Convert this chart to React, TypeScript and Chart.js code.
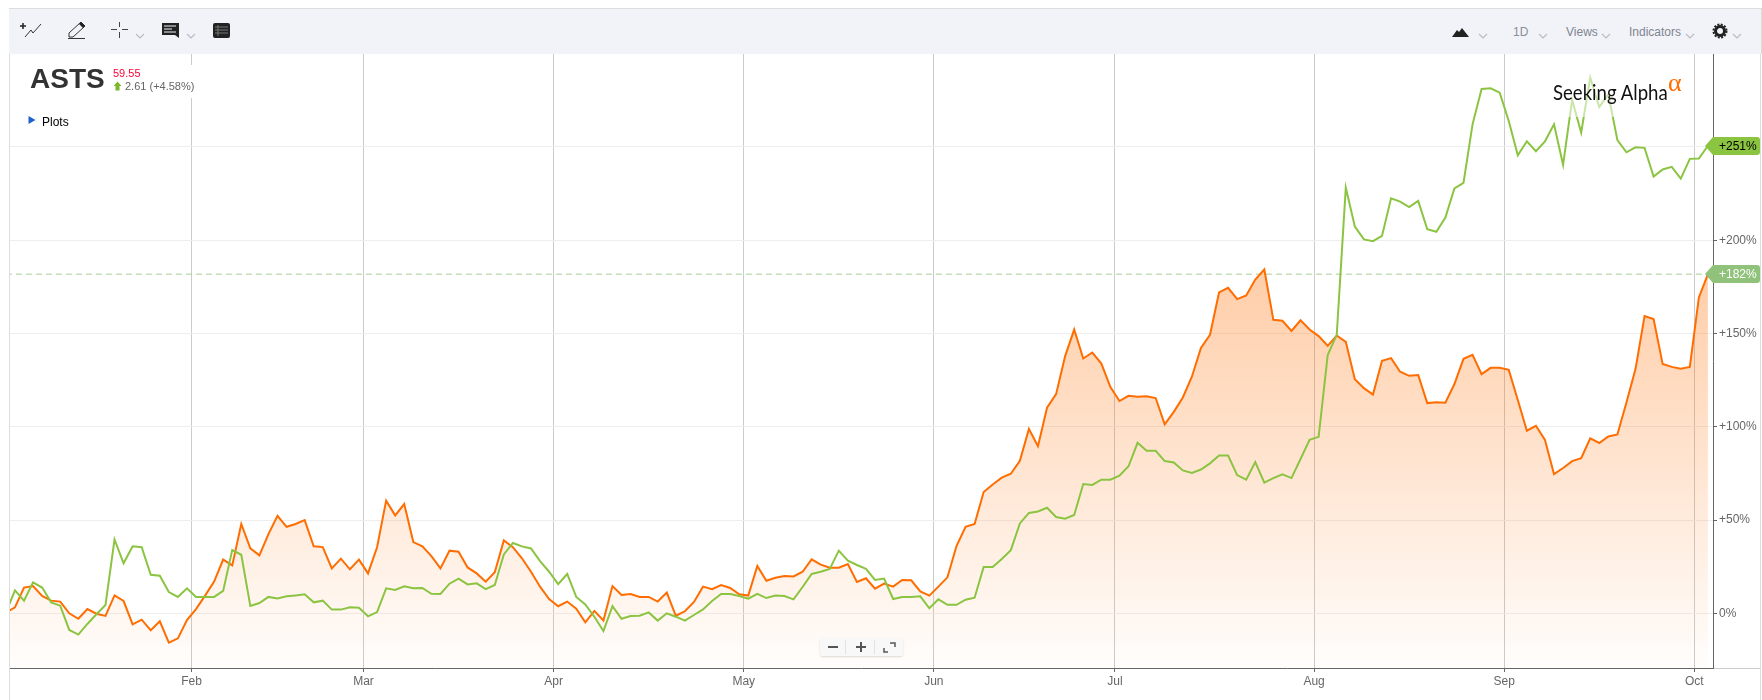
import { useEffect, useRef } from 'react';
import { Chart, registerables } from 'chart.js';

Chart.register(...registerables);

// Percent change per trading day
const astsChange = [
  0.4, 3.2, 13.8, 14.6, 9.3, 6.8, 6.3, 0, -2.9, 2.3, -0.2, -1.4, 9.6, 6.6, -5.9, -3.4, -9.1, -4.3, -15.7, -13.4,
  -3.6, 2.3, 9.5, 17.0, 28.8, 25.7, 47.9, 34.8, 31.1, 42.5, 52.3, 46.4, 47.9, 50.0, 35.9, 35.5, 24.1, 29.3, 23.6, 28.8,
  21.4, 35.4, 60.4, 52.5, 58.6, 38.2, 35.9, 30.7, 24.1, 33.6, 33.0, 24.6, 21.4, 17.0, 22.0, 39.1, 35.5, 29.5, 22.3, 14.3,
  7.7, 3.8, 6.3, 2.5, -4.8, 1.3, -3.8, 14.6, 9.8, 10.4, 8.8, 8.8, 6.3, 11.1, -1.3, 1.1, 6.1, 14.3, 12.9, 15.2,
  13.6, 10.2, 9.5, 25.4, 17.5, 19.1, 20.0, 19.8, 22.3, 28.9, 26.1, 24.5, 24.5, 26.4, 16.8, 18.8, 13.2, 15.9, 14.3, 17.9,
  17.7, 11.8, 9.5, 14.3, 19.3, 36.1, 46.4, 47.9, 65.0, 69.1, 72.7, 74.8, 81.8, 98.8, 89.6, 110.2, 117.5, 137.9, 152.1, 136.6,
  139.8, 133.9, 121.3, 113.8, 116.6, 116.1, 116.4, 115.4, 101.3, 108.0, 115.7, 126.8, 142.3, 149.3, 172.0, 174.5, 168.4, 170.4, 178.9, 184.3,
  157.3, 156.8, 151.4, 157.1, 152.1, 148.6, 143.4, 148.9, 145.5, 125.5, 120.7, 117.3, 135.4, 136.8, 129.5, 127.3, 127.7, 112.7, 113.2, 112.9,
  122.9, 136.4, 138.6, 128.2, 131.6, 131.6, 130.5, 114.3, 97.9, 100.5, 92.9, 74.6, 77.9, 81.6, 83.2, 93.8, 91.3, 94.8, 95.9, 113.0,
  130.9, 159.3, 157.7, 133.6, 132.1, 131.1, 132.1, 169.3, 181.8,
];

const comparisonChange = [
  0.4, 12.3, 6.8, 16.6, 13.8, 5.9, 4.1, -8.9, -11.4, -5.7, -0.5, 4.5, 39.6, 26.8, 35.9, 35.4, 20.7, 20.2, 11.4, 8.8,
  13.4, 8.8, 8.8, 8.8, 12.0, 33.9, 31.4, 3.9, 5.5, 8.8, 8.0, 9.1, 9.6, 10.2, 5.9, 6.8, 2.0, 2.0, 3.2, 3.0,
  -1.6, 0.7, 13.4, 12.5, 14.5, 13.4, 13.6, 10.5, 10.4, 15.9, 18.6, 15.5, 16.1, 13.0, 15.2, 31.6, 37.7, 35.9, 34.8, 28.0,
  22.3, 15.7, 21.1, 8.8, 4.8, -1.8, -9.5, 3.9, -2.9, -1.4, -1.3, 0.5, -3.9, 0, -1.8, -3.9, -0.9, 2.1, 6.6, 10.4,
  10.4, 9.3, 7.9, 10.5, 8.2, 9.5, 9.3, 7.5, 14.1, 21.1, 22.3, 23.8, 33.6, 28.2, 25.9, 23.8, 17.9, 18.6, 7.7, 8.8,
  8.8, 9.1, 2.7, 7.5, 4.6, 4.6, 7.3, 8.4, 24.8, 24.8, 29.1, 33.9, 48.2, 53.8, 54.6, 56.6, 51.6, 50.7, 52.7, 69.3,
  68.8, 71.6, 71.6, 73.8, 78.8, 91.4, 87.1, 87.1, 81.6, 80.9, 76.6, 75.2, 77.1, 80.4, 84.6, 84.6, 74.1, 71.6, 81.1, 70.0,
  72.5, 74.5, 72.5, 82.7, 93.0, 94.6, 138.4, 149.3, 228.2, 207.3, 200.4, 199.5, 202.3, 222.5, 220.7, 217.7, 221.1, 205.9, 204.5, 212.1,
  227.7, 230.7, 262.1, 281.1, 281.4, 279.1, 263.9, 245.5, 253.0, 247.7, 253.0, 262.1, 240.4, 275.2, 257.7, 287.1, 271.4, 278.2, 253.6, 247.1,
  249.8, 249.5, 234.1, 237.9, 239.3, 233.0, 243.6, 243.8, 250.6,
];

const monthLabels = ['Feb', 'Mar', 'Apr', 'May', 'Jun', 'Jul', 'Aug', 'Sep', 'Oct'];
// gridlines sit halfway between two trading days
const monthStarts = [20.5, 39.5, 60.5, 81.5, 102.5, 122.5, 144.5, 165.5, 186.5];
const percentTicks = [0, 50, 100, 150, 200, 250];

const ORANGE = '#ff6d00';
const GREEN = '#8bc441';

const badgePlugin = {
  id: 'lastValueBadges',
  afterDraw(chart: Chart) {
    const { ctx, scales } = chart;
    const badge = (value: number, fill: string, color: string) => {
      const y = Math.round(scales.y.getPixelForValue(value));
      ctx.save();
      ctx.beginPath();
      ctx.moveTo(1705, y);
      ctx.lineTo(1713, y - 9);
      ctx.lineTo(1757, y - 9);
      ctx.quadraticCurveTo(1760, y - 9, 1760, y - 6);
      ctx.lineTo(1760, y + 6);
      ctx.quadraticCurveTo(1760, y + 9, 1757, y + 9);
      ctx.lineTo(1713, y + 9);
      ctx.closePath();
      ctx.fillStyle = fill;
      ctx.fill();
      ctx.fillStyle = color;
      ctx.font = '12px "Liberation Sans"';
      ctx.textBaseline = 'middle';
      ctx.fillText(`+${Math.round(value)}%`, 1719, y + 0.5);
      ctx.restore();
    };
    badge(comparisonChange[comparisonChange.length - 1], '#8bc441', '#000');
    badge(astsChange[astsChange.length - 1], '#90c27c', '#fff');
  },
};

function Chevron({ x }: { x: number }) {
  return (
    <svg style={{ position: 'absolute', left: x - 5, top: 33, overflow: 'visible' }} width="10" height="6">
      <path d="M1 1 L5 5 L9 1" fill="none" stroke="#b9bcc2" strokeWidth="1.2" />
    </svg>
  );
}

function Label({ x, y, size, color, children }: any) {
  return (
    <div style={{ position: 'absolute', left: x, top: y, fontSize: size, color, lineHeight: 1, whiteSpace: 'nowrap' }}>
      {children}
    </div>
  );
}

function Toolbar() {
  return (
    <div style={{ position: 'absolute', left: 9, top: 8, width: 1752, height: 45, background: '#f1f3f8', borderTop: '1px solid #ddd', borderRight: '1px solid #ddd' }}>
      <div style={{ position: 'absolute', left: -9, top: -9, width: 1762, height: 54 }}>
        <svg style={{ position: 'absolute', left: 0, top: 0 }} width="240" height="54">
          <path d="M20 26 H26 M23 23 V29" stroke="#222" strokeWidth="1.5" />
          <path d="M25 37 L31 30 L33 33 L41 24" fill="none" stroke="#333" strokeWidth="1" />
          <path d="M69 37 L69 33 L81 22 L85 26 L73 37 Z M68 38.5 H85" fill="none" stroke="#333" strokeWidth="1" />
          <path d="M81 22 L85 26 L83 28 L79 24 Z" fill="#222" />
          <path d="M111 29.5 H117 M122 29.5 H128 M119.5 22 V27 M119.5 32 V38" stroke="#444" strokeWidth="1" />
          <path d="M162 23 H179 V38 L175 35 H162 Z" fill="#222" />
          <path d="M164 26 H176 M164 29 H172 M164 32 H176" stroke="#f1f3f8" strokeWidth="1" />
          <rect x="213" y="23" width="17" height="15" rx="2" fill="#222" />
          <path d="M215 27 H228 M215 30 H228 M215 33 H228 M218 25 V36" stroke="#777" strokeWidth="1" />
        </svg>
        <Chevron x={140} />
        <Chevron x={191} />
        <svg style={{ position: 'absolute', left: 1450, top: 24 }} width="20" height="16">
          <path d="M2 13 L7 6 L9 8 L12 4 L19 13 Z" fill="#222" />
        </svg>
        <Chevron x={1483} />
        <Label x={1513} y={26} size={12} color="#8a8f99">1D</Label>
        <Chevron x={1543} />
        <Label x={1566} y={26} size={12} color="#808590">Views</Label>
        <Chevron x={1606} />
        <Label x={1629} y={26} size={12} color="#808590">Indicators</Label>
        <Chevron x={1690} />
        <svg style={{ position: 'absolute', left: 1711, top: 22 }} width="18" height="18">
          <circle cx="9" cy="9" r="4.5" fill="none" stroke="#222" strokeWidth="3" />
          <circle cx="9" cy="9" r="6.5" fill="none" stroke="#222" strokeWidth="2" strokeDasharray="2 1.4" />
        </svg>
        <Chevron x={1737} />
      </div>
    </div>
  );
}

function ZoomControls() {
  return (
    <div style={{ position: 'absolute', left: 820, top: 638, width: 83, height: 18, background: '#f8f8f8', borderRadius: 2, boxShadow: '0 1px 2px rgba(0,0,0,0.15)' }}>
      <svg width="83" height="18" style={{ display: 'block' }}>
        <path d="M8 9 H18" stroke="#555" strokeWidth="2" />
        <path d="M36 9 H46 M41 4 V14" stroke="#555" strokeWidth="2" />
        <path d="M25.5 2 V16 M54.5 2 V16" stroke="#e2e2e2" strokeWidth="1" />
        <path d="M70 5 H75 V9 M64 10 V14 H68" fill="none" stroke="#555" strokeWidth="1.5" />
      </svg>
    </div>
  );
}

export default function App() {
  const canvasRef = useRef<HTMLCanvasElement | null>(null);

  useEffect(() => {
    if (!canvasRef.current) return;
    Chart.defaults.font.family = '"Liberation Sans"';
    const last = astsChange.length - 1;

    const chart = new Chart(canvasRef.current, {
      type: 'line',
      plugins: [badgePlugin],
      data: {
        datasets: [
          {
            label: 'Comparison',
            data: comparisonChange.map((y, x) => ({ x, y })),
            borderColor: GREEN,
            borderWidth: 2,
            pointRadius: 0,
            tension: 0,
            fill: false,
            order: 0,
          },
          {
            label: 'ASTS',
            data: astsChange.map((y, x) => ({ x, y })),
            borderColor: ORANGE,
            borderWidth: 2,
            pointRadius: 0,
            tension: 0,
            fill: 'start',
            order: 1,
            backgroundColor: (ctx: any) => {
              const { chart: c } = ctx;
              if (!c.chartArea) return 'transparent';
              const g = c.ctx.createLinearGradient(0, c.scales.y.getPixelForValue(184), 0, c.chartArea.bottom);
              g.addColorStop(0, 'rgba(255,109,0,0.34)');
              g.addColorStop(1, 'rgba(255,109,0,0.01)');
              return g;
            },
          },
          {
            label: 'Last',
            data: [
              { x: 0, y: astsChange[last] },
              { x: 189, y: astsChange[last] },
            ],
            borderColor: '#a5cd96',
            borderWidth: 1,
            borderDash: [6, 4],
            pointRadius: 0,
            fill: false,
            order: 2,
          },
        ],
      },
      options: {
        responsive: false,
        animation: false,
        layout: { padding: { left: 9.5, top: 54, right: 0, bottom: 0 } },
        plugins: { legend: { display: false }, tooltip: { enabled: false } },
        scales: {
          x: {
            type: 'linear',
            min: 0.398,
            max: 188.56,
            afterFit: (scale: any) => {
              scale.height = 32;
            },
            afterBuildTicks: (scale: any) => {
              scale.ticks = monthStarts.map((value) => ({ value }));
            },
            grid: { color: '#ccc', tickColor: '#666', tickLength: 4 },
            border: { color: '#666', width: 1 },
            ticks: {
              color: '#666',
              font: { size: 12 },
              padding: 2,
              maxRotation: 0,
              autoSkip: false,
              callback: (value: any) => monthLabels[monthStarts.indexOf(value)],
            },
          },
          y: {
            position: 'right',
            min: -29.3,
            max: 299.8,
            afterFit: (scale: any) => {
              scale.width = 49;
            },
            afterBuildTicks: (scale: any) => {
              scale.ticks = percentTicks.map((value) => ({ value }));
            },
            grid: { color: '#eee', tickColor: '#666', tickLength: 4 },
            border: { color: '#666', width: 1 },
            ticks: {
              color: '#666',
              font: { size: 12 },
              padding: 2,
              callback: (value: any) => (value > 0 ? `+${value}%` : `${value}%`),
            },
          },
        },
      },
    });

    return () => chart.destroy();
  }, []);

  return (
    <div style={{ position: 'absolute', left: 0, top: 0, width: 1762, height: 700, background: '#fff', overflow: 'hidden', fontFamily: '"Liberation Sans"' }}>
      <canvas ref={canvasRef} width={1762} height={700} style={{ position: 'absolute', left: 0, top: 0, width: 1762, height: 700 }} />
      {/* page frame around the plot */}
      <div style={{ position: 'absolute', left: 9, top: 8, width: 1, height: 692, background: '#ddd' }} />
      <div style={{ position: 'absolute', left: 1714, top: 668, width: 46, height: 1, background: '#ccc' }} />
      <div style={{ position: 'absolute', left: 1760, top: 8, width: 1, height: 692, background: '#ddd' }} />
      <Toolbar />

      {/* ticker header */}
      <div style={{ position: 'absolute', left: 24, top: 65, width: 171, height: 33, background: '#fff' }} />
      <div style={{ position: 'absolute', left: 30, top: 65, fontSize: 28, fontWeight: 700, color: '#333', lineHeight: 1 }}>ASTS</div>
      <Label x={113} y={68} size={11} color="#ff0033">59.55</Label>
      <svg style={{ position: 'absolute', left: 113, top: 81 }} width="9" height="10">
        <path d="M4.5 0.5 L8.5 5 H6.5 V9.5 H2.5 V5 H0.5 Z" fill="#7cb82f" />
      </svg>
      <Label x={125} y={81} size={11} color="#666">2.61 (+4.58%)</Label>
      <svg style={{ position: 'absolute', left: 28, top: 115 }} width="8" height="10">
        <path d="M0.5 1 L7.5 5 L0.5 9 Z" fill="#1f5fd0" />
      </svg>
      <Label x={42} y={116} size={12} color="#000">Plots</Label>

      {/* watermark washes out the line behind it */}
      <div style={{ position: 'absolute', left: 1550, top: 70, width: 140, height: 47, background: 'rgba(255,255,255,0.55)' }} />
      <div style={{ position: 'absolute', left: 1553, top: 81, fontFamily: 'Lato', fontSize: 21, color: '#111', lineHeight: 1, whiteSpace: 'nowrap', transform: 'scaleX(0.885)', transformOrigin: 'left' }}>Seeking Alpha</div>
      <div style={{ position: 'absolute', left: 1668, top: 70, fontFamily: '"Liberation Serif"', fontSize: 26, color: ORANGE, lineHeight: 1 }}>α</div>

      <ZoomControls />
    </div>
  );
}
